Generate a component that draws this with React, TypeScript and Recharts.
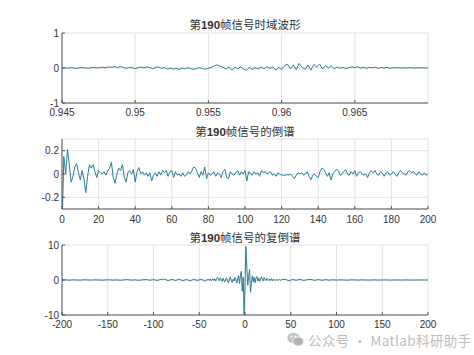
import { CartesianGrid, Line, LineChart, XAxis, YAxis } from "recharts";

// frame 190, time waveform (sampled every 0.2 ms from 0.945 s)
const waveStart = 0.945;
const waveStep = 0.0002;
const waveValues = [
  0, 0.005, -0.005, 0.01, 0, -0.01, 0.005, 0.01, 0, -0.005,
  0.01, 0.015, 0, 0.01, 0.02, 0.01, 0.03, 0.02, 0.04, 0.015,
  0.035, 0.02, -0.01, 0.02, 0.005, -0.02, 0.01, 0.03, 0, 0.035,
  0.01, -0.02, 0.02, 0.03, -0.01, 0.01, -0.03, 0, -0.035, -0.01,
  -0.04, 0, -0.03, 0.01, -0.02, -0.04, -0.01, 0.01, -0.02, -0.035,
  -0.01, 0.02, 0.06, 0.09, 0.05, 0.02, -0.03, 0.03, -0.06, 0.02,
  -0.02, 0.03, -0.03, -0.06, 0.02, -0.04, 0.01, -0.03, 0.03, -0.02,
  0.04, -0.01, 0.03, -0.06, 0.02, -0.04, 0.07, 0.11, -0.02, 0.09,
  -0.05, 0.13, 0.02, -0.04, 0.08, -0.06, 0.1, 0.03, 0.11, -0.03,
  0.07, 0, 0.06, -0.02, 0.03, -0.01, 0.02, -0.02, 0.01, 0.03,
  0.01, 0.035, 0, 0.02, -0.01, 0.02, 0.005, 0.025, -0.01, 0.015,
  0, 0.02, -0.01, 0.01, 0, 0.015, -0.005, 0.01, 0, 0.01,
  -0.005, 0.01, 0, 0.005, 0, 0.005,
];

// real cepstrum, quefrency 0..200
const cepValues = [
  -0.5, 0.15, 0, 0.21, 0.08, -0.07, -0.02, 0.06, 0.09, 0.01,
  -0.05, 0.03, -0.04, -0.16, -0.02, 0.08, 0.05, 0.08, 0.02, -0.03,
  0.03, 0.01, 0, 0.02, -0.01, 0.03, 0.05, 0.1, -0.03, -0.08,
  0, 0.05, 0.03, 0.08, -0.02, -0.07, 0.01, 0.03, 0, 0.04,
  -0.07, 0.02, 0.055, 0, 0.02, -0.01, 0.01, -0.02, 0.01, -0.06,
  -0.01, 0.01, -0.02, 0.02, -0.01, 0.03, 0.01, 0.03, -0.02, 0.02,
  0.03, -0.03, 0.02, -0.01, 0, -0.02, 0.01, -0.02, -0.01, 0.02,
  0, 0.03, 0.06, 0.05, 0.01, -0.03, 0.02, -0.01, 0.06, -0.04,
  0.01, -0.01, 0, 0.02, -0.02, 0.01, 0, -0.03, 0.02, 0.04,
  -0.03, -0.04, 0.02, 0, -0.01, 0.01, 0.03, -0.01, 0.02, 0,
  0.03, -0.06, 0.02, 0, -0.01, 0.02, 0, 0.01, -0.02, 0.03,
  0.01, 0.02, 0, 0.01, 0.02, -0.01, 0, -0.02, 0.01, 0,
  -0.01, -0.01, -0.01, -0.005, -0.01, 0, -0.02, -0.04, -0.01, 0.01,
  0, 0.01, -0.01, 0, 0.02, -0.02, -0.05, -0.01, 0, -0.02,
  -0.03, 0.02, 0.05, 0.04, 0.01, -0.02, 0.01, -0.05, 0, 0.02,
  0.04, 0.03, -0.01, 0, 0.02, 0.04, 0, -0.01, 0.02, 0,
  0.03, -0.02, 0.01, 0.02, 0, -0.01, 0, -0.03, 0.01, 0.03,
  0.01, 0.03, 0, -0.01, 0.02, 0.01, -0.02, 0.01, 0.02, -0.01,
  0, 0.02, 0, -0.02, 0.01, 0.03, 0.01, 0, -0.01, 0.02,
  0.03, 0.01, 0.02, 0, -0.01, 0.02, 0, -0.01, 0.01, -0.01,
  0,
];

// complex cepstrum: tails every 4 samples, core -40..40 every sample
const cxLeftTail = [
  0, 0.05, -0.05, 0.03, 0, -0.04, 0.05, 0.02, -0.03, 0.04,
  0, -0.05, 0.03, 0.06, -0.04, 0.02, -0.08, 0.05, 0.1, -0.05,
  0.04, -0.1, 0.08, 0.12, -0.06, 0.1, -0.12, 0.15, 0.25, -0.2,
  0.2, -0.15, 0.25, -0.2, 0.15, -0.25, 0.2, -0.15, 0.25, -0.3,
];
const cxCore = [
  0.2, -0.1, 0.3, -0.2, 0.1, 0.35, -0.1, 0.3, -0.3, 0.5,
  0.8, 0.3, -0.2, 0.6, 0.2, -0.4, 0.5, -0.2, -0.6, 0.3,
  0.6, -0.3, -0.8, 0.4, 0.9, -0.2, -0.7, 0.2, -0.3, 0.7,
  0.2, -0.9, 0.3, 1.2, -1.0, 1.5, 2.5, -3.2, 0.8, -9.8,
  -2.0,
  9.6, 4.0, -1.5, 1.0, 3.0, -3.5, -1.0, 1.2, -0.5, 0.8,
  -0.8, 0.5, 1.0, -0.3, 0.6, -0.4, 0.3, 0.9, 0.2, -0.3,
  0.7, 0.2, -0.2, 0.5, 0.1, -0.2, 0.3, -0.1, 0.4, -0.3,
  0.2, 0.1, -0.2, 0.2, 0, -0.15, 0.15, 0.05, -0.1, 0.1,
];
const cxRightTail = [
  0.2, -0.2, 0.15, -0.1, 0.2, -0.15, 0.1, 0.15, -0.1, 0.12,
  -0.08, 0.1, -0.05, 0.06, -0.04, 0.05, 0, -0.05, 0.04, 0.02,
  -0.03, 0.04, 0, -0.03, 0.03, 0, -0.02, 0.03, 0, -0.03,
  0.02, 0, -0.02, 0.02, 0, -0.02, 0.02, 0, -0.01, 0,
];

const waveXTicks = [0.945, 0.95, 0.955, 0.96, 0.965];
const waveYTicks = [-1, 0, 1];
const cepXTicks = [0, 20, 40, 60, 80, 100, 120, 140, 160, 180, 200];
const cepYTicks = [-0.2, 0, 0.2];
const cxXTicks = [-200, -150, -100, -50, 0, 50, 100, 150, 200];
const cxYTicks = [-10, 0, 10];

const waveData = waveValues.map((v, i) => ({ x: +(waveStart + i * waveStep).toFixed(4), y: v }));
const cepData = cepValues.map((v, i) => ({ x: i, y: v }));
const cxData = [
  ...cxLeftTail.map((v, i) => ({ x: -200 + 4 * i, y: v })),
  ...cxCore.map((v, i) => ({ x: -40 + i, y: v })),
  ...cxRightTail.map((v, i) => ({ x: 44 + 4 * i, y: v })),
];

const W = 474;
const H = 355;
const axisColor = "#555555";
const lineColor = "#2f7d92";
const tickFont = { fill: "#333333", fontSize: 10, fontFamily: "'Liberation Sans', Arial, sans-serif" };

function Panel({ data, top, bottom, xDomain, xTicks, yDomain, yTicks, gap }: any) {
  return (
    <div style={{ position: "absolute", left: 0, top: 0 }}>
      <LineChart
        width={W}
        height={H}
        data={data}
        margin={{ top, right: 46, bottom: H - bottom - 20, left: 0 }}
      >
        <CartesianGrid stroke="#e2e2e2" />
        <XAxis
          dataKey="x"
          type="number"
          domain={xDomain}
          ticks={xTicks}
          allowDataOverflow
          interval={0}
          height={20}
          tickSize={-3}
          tickMargin={gap}
          stroke={axisColor}
          tick={tickFont}
        />
        <XAxis
          xAxisId="top"
          orientation="top"
          dataKey="x"
          type="number"
          domain={xDomain}
          ticks={xTicks}
          allowDataOverflow
          interval={0}
          height={0}
          tickSize={-3}
          stroke={axisColor}
          tickFormatter={() => ""}
        />
        <YAxis
          type="number"
          domain={yDomain}
          ticks={yTicks}
          allowDataOverflow
          interval={0}
          width={62}
          tickSize={-3}
          tickMargin={6}
          stroke={axisColor}
          tick={tickFont}
        />
        <YAxis
          yAxisId="right"
          orientation="right"
          type="number"
          domain={yDomain}
          ticks={yTicks}
          allowDataOverflow
          interval={0}
          width={0}
          tickSize={-3}
          stroke={axisColor}
          tickFormatter={() => ""}
        />
        <Line
          dataKey="y"
          type="linear"
          stroke={lineColor}
          strokeWidth={1}
          dot={false}
          isAnimationActive={false}
        />
      </LineChart>
    </div>
  );
}

function Title({ y, pre, num, post }: { y: number; pre: string; num: string; post: string }) {
  return (
    <div
      style={{
        position: "absolute",
        left: 62,
        width: 366,
        top: y - 8,
        textAlign: "center",
        fontFamily: "'Noto Sans CJK SC', sans-serif",
        fontSize: 11.5,
        lineHeight: "16px",
        color: "#333333",
      }}
    >
      {pre}
      <span style={{ fontFamily: "'Liberation Sans', Arial, sans-serif", fontWeight: "bold" }}>{num}</span>
      {post}
    </div>
  );
}

export default function App() {
  return (
    <div style={{ position: "absolute", left: 0, top: 0, width: W, height: H, background: "#ffffff", overflow: "hidden" }}>
      <Panel data={waveData} top={33} bottom={103} xDomain={[0.945, 0.97]} xTicks={waveXTicks} yDomain={[-1, 1]} yTicks={waveYTicks} gap={9} />
      <Panel data={cepData} top={139} bottom={209} xDomain={[0, 200]} xTicks={cepXTicks} yDomain={[-0.3, 0.3]} yTicks={cepYTicks} gap={10} />
      <Panel data={cxData} top={245} bottom={315} xDomain={[-200, 200]} xTicks={cxXTicks} yDomain={[-10, 10]} yTicks={cxYTicks} gap={9} />
      <Title y={24} pre="第" num="190" post="帧信号时域波形" />
      <Title y={131} pre="第" num="190" post="帧信号的倒谱" />
      <Title y={237} pre="第" num="190" post="帧信号的复倒谱" />
      <div
        style={{
          position: "absolute",
          left: 287,
          top: 332,
          display: "flex",
          alignItems: "center",
          gap: 4,
          whiteSpace: "nowrap",
          color: "#bdbdbd",
          fontFamily: "'Noto Sans CJK SC', sans-serif",
          fontSize: 13.5,
          lineHeight: "14px",
          letterSpacing: 0.4,
        }}
      >
        <svg width={17} height={15} viewBox="0 0 17 15">
          <ellipse cx={6.5} cy={6} rx={6.2} ry={5.2} fill="#c4c4c4" />
          <ellipse cx={11.2} cy={9.5} rx={5.4} ry={4.6} fill="#b4b4b4" stroke="#ffffff" strokeWidth={0.8} />
          <circle cx={4.5} cy={4.5} r={0.9} fill="#ffffff" />
          <circle cx={8.3} cy={4.5} r={0.9} fill="#ffffff" />
        </svg>
        <span>公众号 · Matlab科研助手</span>
      </div>
    </div>
  );
}
